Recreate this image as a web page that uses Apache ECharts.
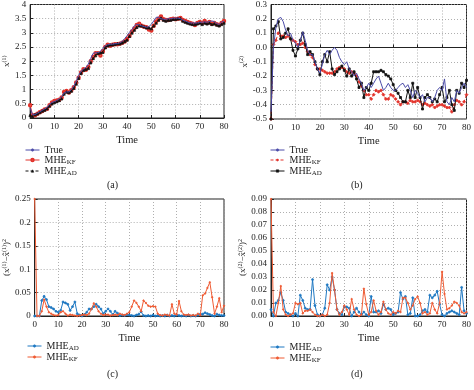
<!DOCTYPE html>
<html><head><meta charset="utf-8">
<script src="https://cdn.jsdelivr.net/npm/echarts@6/dist/echarts.min.js"></script>
<style>html,body{margin:0;padding:0;background:#fff}#c{width:474px;height:390px}</style>
</head><body><div id="c"></div>
<script>
// time steps 0..80
const timeSteps = Array.from({length: 81}, (_, i) => i);
const xTicks = [0, 10, 20, 30, 40, 50, 60, 70, 80];

// Panel (a): x^(1)
const trueA = [0.35,0.12,0.12,0.17,0.22,0.27,0.32,0.38,0.48,0.55,0.58,0.62,0.68,0.75,0.88,0.92,0.92,1.0,1.12,1.3,1.5,1.65,1.72,1.78,1.9,2.1,2.28,2.3,2.3,2.35,2.45,2.55,2.58,2.6,2.6,2.62,2.62,2.65,2.7,2.8,2.9,3.02,3.12,3.25,3.3,3.28,3.25,3.22,3.2,3.22,3.3,3.42,3.55,3.55,3.5,3.48,3.48,3.5,3.5,3.52,3.52,3.52,3.5,3.45,3.42,3.38,3.35,3.35,3.35,3.35,3.37,3.38,3.38,3.38,3.4,3.42,3.4,3.33,3.3,3.38,3.4];
const kfA = [0.45,0.1,0.1,0.15,0.2,0.25,0.3,0.33,0.45,0.55,0.6,0.62,0.64,0.72,0.92,0.95,0.9,0.98,1.08,1.25,1.42,1.6,1.72,1.7,1.8,2.0,2.15,2.28,2.28,2.2,2.35,2.5,2.58,2.55,2.58,2.6,2.6,2.62,2.65,2.7,2.78,2.9,3.05,3.15,3.28,3.32,3.25,3.22,3.2,3.12,3.08,3.25,3.4,3.5,3.58,3.48,3.45,3.45,3.48,3.5,3.48,3.5,3.52,3.45,3.42,3.38,3.35,3.32,3.28,3.35,3.38,3.35,3.42,3.35,3.38,3.32,3.35,3.3,3.28,3.35,3.42];
const adA = [0.1,0.05,0.12,0.15,0.2,0.25,0.28,0.33,0.42,0.5,0.55,0.58,0.62,0.68,0.85,0.92,0.9,0.95,1.05,1.2,1.4,1.58,1.68,1.72,1.75,1.95,2.1,2.2,2.28,2.3,2.32,2.48,2.55,2.58,2.58,2.6,2.62,2.62,2.65,2.7,2.75,2.88,3.0,3.1,3.2,3.25,3.25,3.22,3.18,3.18,3.15,3.25,3.35,3.45,3.52,3.45,3.42,3.45,3.45,3.48,3.48,3.5,3.5,3.42,3.38,3.35,3.32,3.3,3.3,3.32,3.35,3.3,3.35,3.32,3.35,3.3,3.32,3.28,3.25,3.3,3.35];

// Panel (b): x^(2)
const trueB = [-0.45,0.0,0.14,0.2,0.21,0.18,0.12,0.08,0.1,0.05,0.03,0.0,0.05,0.11,0.05,-0.02,-0.05,-0.05,-0.1,-0.15,-0.18,-0.12,-0.05,-0.02,-0.05,-0.02,0.0,-0.02,-0.07,-0.1,-0.12,-0.1,-0.15,-0.17,-0.2,-0.18,-0.22,-0.25,-0.3,-0.28,-0.25,-0.28,-0.25,-0.22,-0.2,-0.25,-0.3,-0.28,-0.25,-0.28,-0.3,-0.3,-0.28,-0.26,-0.25,-0.28,-0.26,-0.3,-0.35,-0.3,-0.32,-0.35,-0.33,-0.38,-0.35,-0.35,-0.38,-0.35,-0.3,-0.28,-0.3,-0.22,-0.38,-0.4,-0.35,-0.38,-0.3,-0.32,-0.28,-0.25,-0.28];
const kfB = [-0.5,0.02,0.05,0.1,0.08,0.08,0.07,0.08,0.06,0.05,0.04,0.02,0.02,0.03,0.0,-0.03,-0.05,-0.07,-0.12,-0.15,-0.15,-0.16,-0.17,-0.18,-0.18,-0.18,-0.17,-0.15,-0.14,-0.14,-0.15,-0.17,-0.18,-0.17,-0.18,-0.2,-0.24,-0.27,-0.3,-0.33,-0.33,-0.36,-0.33,-0.3,-0.31,-0.3,-0.33,-0.36,-0.36,-0.33,-0.34,-0.36,-0.38,-0.4,-0.38,-0.38,-0.39,-0.37,-0.38,-0.38,-0.37,-0.38,-0.4,-0.39,-0.4,-0.41,-0.4,-0.42,-0.41,-0.4,-0.4,-0.41,-0.42,-0.42,-0.45,-0.4,-0.37,-0.38,-0.4,-0.38,-0.33];
const adB = [-0.5,0.13,0.15,0.18,0.06,0.07,0.1,0.13,0.06,-0.02,-0.06,-0.01,0.05,0.1,0.02,-0.05,-0.03,-0.05,-0.1,-0.15,-0.19,-0.1,-0.05,-0.1,-0.03,-0.15,-0.19,-0.17,-0.15,-0.13,-0.16,-0.2,-0.15,-0.2,-0.17,-0.22,-0.28,-0.25,-0.35,-0.28,-0.3,-0.25,-0.17,-0.17,-0.17,-0.16,-0.17,-0.19,-0.2,-0.22,-0.26,-0.3,-0.32,-0.35,-0.38,-0.38,-0.3,-0.35,-0.25,-0.35,-0.28,-0.35,-0.43,-0.35,-0.33,-0.35,-0.38,-0.36,-0.38,-0.33,-0.28,-0.38,-0.35,-0.3,-0.4,-0.44,-0.3,-0.32,-0.25,-0.28,-0.23];

// Panel (c): squared error of x^(1)
const adC = [0.0,0.0,0.0,0.033,0.042,0.035,0.02,0.018,0.015,0.01,0.008,0.012,0.03,0.028,0.025,0.012,0.02,0.03,0.005,0.002,0.0,0.003,0.008,0.015,0.015,0.02,0.025,0.02,0.015,0.005,0.01,0.015,0.01,0.003,0.01,0.006,0.001,0.002,0.001,0.003,0.002,0.001,0.0,0.002,0.004,0.009,0.001,0.0,0.001,0.0,0.002,0.0,0.001,0.0,0.001,0.0,0.002,0.0,0.001,0.0,0.002,0.001,0.0,0.001,0.0,0.002,0.0,0.001,0.0,0.002,0.004,0.004,0.007,0.005,0.003,0.001,0.0,0.004,0.002,0.001,0.001];
const kfC = [0.25,0.0,0.0,0.01,0.035,0.02,0.008,0.005,0.002,0.001,0.002,0.008,0.01,0.005,0.001,0.003,0.002,0.001,0.0,0.001,0.002,0.003,0.002,0.005,0.015,0.027,0.02,0.01,0.005,0.002,0.003,0.003,0.001,0.002,0.003,0.002,0.005,0.003,0.002,0.005,0.008,0.02,0.033,0.028,0.02,0.01,0.033,0.028,0.022,0.02,0.021,0.02,0.005,0.002,0.001,0.003,0.002,0.001,0.025,0.005,0.003,0.032,0.01,0.003,0.002,0.003,0.001,0.002,0.001,0.005,0.002,0.044,0.048,0.06,0.072,0.04,0.005,0.02,0.038,0.008,0.022];

// Panel (d): squared error of x^(2)
const adD = [0.005,0.0,0.01,0.012,0.018,0.012,0.003,0.002,0.001,0.0,0.002,0.0,0.016,0.012,0.006,0.005,0.005,0.028,0.008,0.001,0.0,0.001,0.006,0.024,0.02,0.03,0.02,0.005,0.002,0.001,0.007,0.007,0.006,0.0,0.003,0.006,0.003,0.001,0.003,0.001,0.0,0.015,0.003,0.003,0.004,0.002,0.009,0.005,0.006,0.005,0.001,0.002,0.003,0.018,0.013,0.015,0.001,0.002,0.014,0.0,0.0,0.001,0.004,0.005,0.003,0.016,0.014,0.016,0.019,0.009,0.001,0.0,0.002,0.003,0.004,0.003,0.002,0.001,0.022,0.004,0.002];
const kfD = [0.09,0.003,0.0,0.01,0.023,0.005,0.001,0.0,0.001,0.002,0.01,0.009,0.01,0.002,0.004,0.004,0.005,0.003,0.001,0.0,0.0,0.001,0.0,0.001,0.01,0.033,0.02,0.005,0.001,0.003,0.008,0.005,0.001,0.013,0.005,0.001,0.0,0.001,0.021,0.009,0.001,0.003,0.012,0.004,0.001,0.003,0.011,0.005,0.002,0.001,0.003,0.002,0.004,0.003,0.014,0.014,0.01,0.005,0.008,0.013,0.015,0.01,0.002,0.003,0.001,0.002,0.01,0.005,0.002,0.01,0.034,0.017,0.005,0.006,0.008,0.011,0.01,0.008,0.003,0.002,0.003];

const pairs = arr => arr.map((v, i) => [timeSteps[i], v]);
const FONT = 'Liberation Serif';
const BLUE_T = '#4b4ba8', RED = '#e2322b', BLACK = '#111', AD_C = '#1f78c2', KF_C = '#ef5b33';

const grids = [
  {left: 25, top: 3, width: 199, height: 115},
  {left: 271, top: 3, width: 196, height: 116},
  {left: 27, top: 199, width: 197, height: 117},
  {left: 271, top: 199, width: 198, height: 117}
].map(g => Object.assign({show: true, borderColor: '#222', borderWidth: 1, backgroundColor: 'transparent'}, g));

const supRich = {
  base: {fontFamily: FONT, fontSize: 9, color: '#222'},
  sup: {fontFamily: FONT, fontSize: 6, color: '#222', padding: [0, 0, 5, 0]}
};
const axisCommon = {
  axisLine: {show: true, lineStyle: {color: '#222', width: 1}},
  axisTick: {show: true, inside: true, length: 3, lineStyle: {color: '#222'}},
  splitLine: {show: true, lineStyle: {color: '#9a9a9a', type: [1, 2], width: 0.8}},
  axisLabel: {fontFamily: FONT, fontSize: 9, color: '#222', margin: 4}
};
function xAx(i) {
  return Object.assign({}, axisCommon, {
    type: 'value', gridIndex: i, min: xTicks[0], max: xTicks[xTicks.length - 1], interval: 10,
    name: 'Time', nameLocation: 'middle', nameGap: 17,
    nameTextStyle: {fontFamily: FONT, fontSize: 10.5, color: '#222'}
  });
}
function yAx(i, min, max, interval, name, gap, dec) {
  return Object.assign({}, axisCommon, {
    type: 'value', gridIndex: i, min: min, max: max, interval: interval,
    name: name, nameLocation: 'middle', nameGap: gap, nameRotate: 90,
    nameTextStyle: {fontFamily: FONT, fontSize: 9, color: '#222', rich: supRich},
    axisLabel: Object.assign({}, axisCommon.axisLabel, {
      formatter: v => { const r = Math.round(v * 1000) / 1000; return dec ? r.toFixed(dec) : String(r); }
    })
  });
}

const labelMap = {
  trueA: 'True', kfA: 'MHE{sub|KF}', adA: 'MHE{sub|AD}',
  trueB: 'True', kfB: 'MHE{sub|KF}', adB: 'MHE{sub|AD}',
  adC: 'MHE{sub|AD}', kfC: 'MHE{sub|KF}',
  adD: 'MHE{sub|AD}', kfD: 'MHE{sub|KF}'
};
const legendText = {
  fontFamily: FONT, fontSize: 10, color: '#222',
  rich: {sub: {fontFamily: FONT, fontSize: 7, color: '#222', padding: [5, 0, 0, 0]}}
};
function legend(data, left, top) {
  return {data: data, left: left, top: top, orient: 'vertical', itemGap: 0, itemWidth: 14, itemHeight: 3,
    itemStyle: {borderWidth: 0.6}, lineStyle: {width: 1},
    textStyle: legendText, formatter: n => labelMap[n], selectedMode: false, padding: 0};
}

function line(name, arr, gi, color, type, symbol, size, width, z) {
  return {
    name: name, type: 'line', xAxisIndex: gi, yAxisIndex: gi, data: pairs(arr),
    symbol: symbol, symbolSize: size, showSymbol: symbol !== 'none',
    lineStyle: {color: color, width: width, type: type},
    itemStyle: {color: color, borderColor: color, borderWidth: 0.8},
    emphasis: {disabled: true},
    animation: false, z: z || 2
  };
}

const option = {
  backgroundColor: '#fff',
  animation: false,
  grid: grids,
  xAxis: [xAx(0), xAx(1), xAx(2), xAx(3)],
  yAxis: [
    yAx(0, 0, 4, 0.5, '{base|x}{sup|(1)}', 14),
    yAx(1, -0.5, 0.3, 0.1, '{base|x}{sup|(2)}', 20, 1),
    yAx(2, 0, 0.25, 0.05, '{base|(x}{sup|(1)}{base|−x̂}{sup|(1)}{base|)}{sup|2}', 18),
    yAx(3, 0, 0.09, 0.01, '{base|(x}{sup|(2)}{base|−x̂}{sup|(2)}{base|)}{sup|2}', 22, 2)
  ],
  legend: [
    legend(['trueA', 'kfA', 'adA'], 25, 145),
    legend(['trueB', 'kfB', 'adB'], 270, 145),
    legend(['adC', 'kfC'], 27, 341),
    legend(['adD', 'kfD'], 270, 342)
  ],
  series: [
    line('trueA', trueA, 0, BLUE_T, 'solid', 'none', 0, 1, 4),
    line('kfA', kfA, 0, RED, 'solid', 'emptyCircle', 2.5, 1, 2),
    line('adA', adA, 0, BLACK, [3, 2], 'triangle', 2.5, 1, 3),
    line('trueB', trueB, 1, BLUE_T, 'solid', 'none', 0, 1, 4),
    line('kfB', kfB, 1, RED, [3, 2], 'diamond', 3, 1, 2),
    line('adB', adB, 1, BLACK, 'solid', 'rect', 2, 1, 3),
    line('adC', adC, 2, AD_C, 'solid', 'circle', 2, 1, 2),
    line('kfC', kfC, 2, KF_C, 'solid', 'circle', 1.5, 1, 3),
    line('adD', adD, 3, AD_C, 'solid', 'circle', 2, 1, 2),
    line('kfD', kfD, 3, KF_C, 'solid', 'circle', 1.5, 1, 3)
  ],
  graphic: [
    {type: 'text', left: 107, top: 180, style: {text: '(a)', fontFamily: FONT, fontSize: 10, fill: '#222'}},
    {type: 'text', left: 351, top: 180, style: {text: '(b)', fontFamily: FONT, fontSize: 10, fill: '#222'}},
    {type: 'text', left: 107, top: 369, style: {text: '(c)', fontFamily: FONT, fontSize: 10, fill: '#222'}},
    {type: 'text', left: 351, top: 369, style: {text: '(d)', fontFamily: FONT, fontSize: 10, fill: '#222'}}
  ]
};
const chart = echarts.init(document.getElementById('c'), null, {renderer: 'canvas'});
chart.setOption(option);
</script></body></html>
